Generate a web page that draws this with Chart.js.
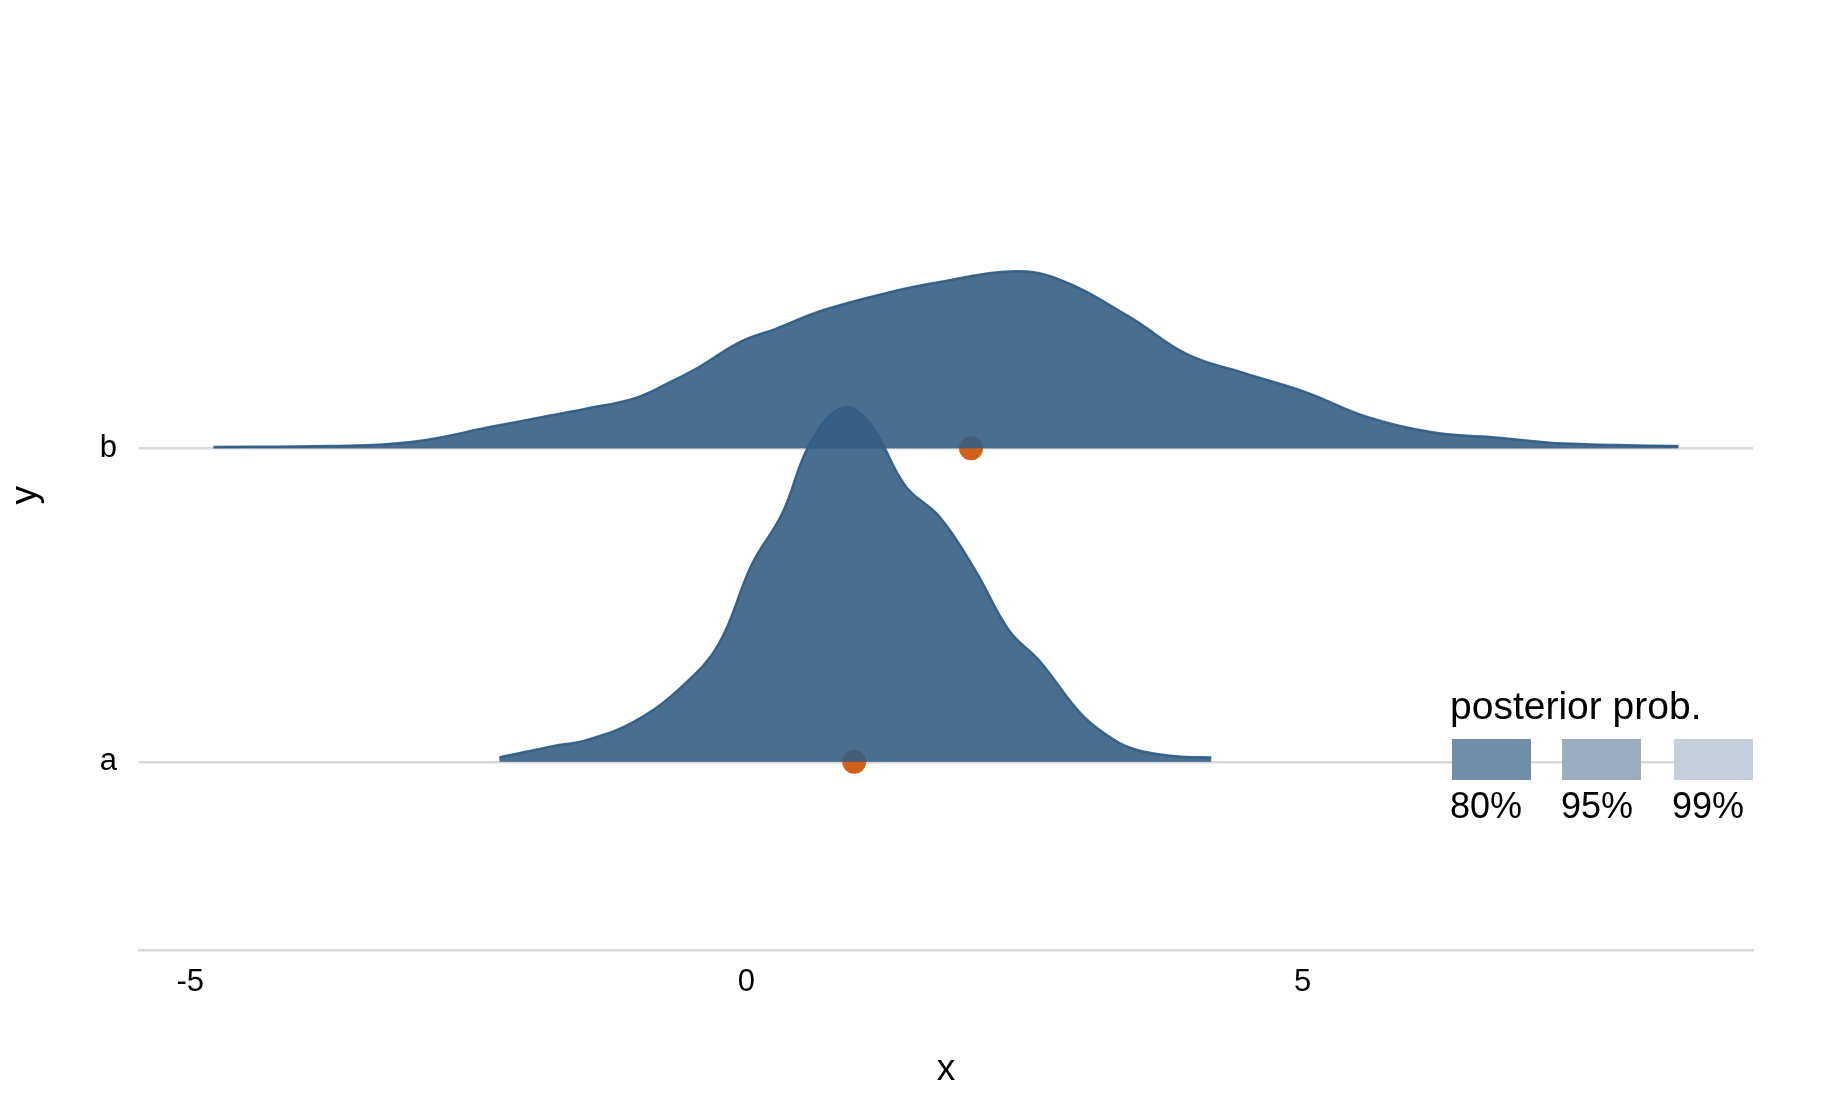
<!DOCTYPE html>
<html>
<head>
<meta charset="utf-8">
<script src="https://cdn.jsdelivr.net/npm/chart.js@4"></script>
<style>
  body { margin: 0; background: #fff; font-family: "Liberation Sans", Arial, sans-serif; }
  #wrap { position: relative; width: 1834px; height: 1096px; }
  .lg { position: absolute; color: #000; }
  .sw { position: absolute; width: 79px; height: 41px; top: 739px; }
</style>
</head>
<body>
<div id="wrap">
  <canvas id="c" width="1834" height="1096"></canvas>
  <div class="lg" style="left:1450px;top:684px;font-size:39px;">posterior prob.</div>
  <div class="sw" style="left:1452px;background:#708ea9"></div>
  <div class="sw" style="left:1562px;background:#9cadc2"></div>
  <div class="sw" style="left:1674px;background:#c5cfdb"></div>
  <div class="lg" style="left:1450px;top:785px;font-size:36px;">80%</div>
  <div class="lg" style="left:1561px;top:785px;font-size:36px;">95%</div>
  <div class="lg" style="left:1672px;top:785px;font-size:36px;">99%</div>
</div>
<script>
const groups = ['a', 'b'];
const groupPos = [1, 2];
const xTicks = [-5, 0, 5];

// density of b (x, height)
const bX = [-4.79, -3.75, -3.01, -2.27, -1.83, -1.43, -1.0, -0.69, -0.42, -0.05, 0.26, 0.69, 1.32, 1.74, 2.38, 2.8, 3.44, 3.96, 4.47, 5.02, 5.58, 6.18, 6.78, 7.35, 8.38];
const bH = [0.004, 0.007, 0.02, 0.07, 0.10, 0.127, 0.16, 0.21, 0.26, 0.34, 0.38, 0.44, 0.50, 0.53, 0.564, 0.54, 0.42, 0.30, 0.24, 0.18, 0.10, 0.05, 0.033, 0.015, 0.007];
// density of a
const aX = [-2.22, -1.74, -1.43, -1.0, -0.58, -0.25, 0.05, 0.32, 0.58, 0.87, 1.11, 1.43, 1.74, 2.06, 2.36, 2.64, 2.99, 3.22, 3.49, 3.86, 4.18];
const aH = [0.014, 0.05, 0.07, 0.13, 0.24, 0.375, 0.63, 0.79, 1.02, 1.13, 1.08, 0.88, 0.78, 0.61, 0.42, 0.32, 0.16, 0.09, 0.04, 0.018, 0.014];

// intervals [lo, hi] for 80, 95, 99 %
const aInt = [[-0.25, 2.36], [-1.0, 2.99], [-1.74, 3.49]];
const bInt = [[-0.42, 4.47], [-1.83, 5.58], [-3.05, 6.78]];
const medians = [0.97, 2.02];

const fills = ['rgba(51,94,132,0.7)', 'rgba(51,94,132,0.5)', 'rgba(51,94,132,0.29)'];
const lineCol = '#3d6a93';

const densities = [[aX, aH, aInt], [bX, bH, bInt]];
const datasets = [];
// b first so a draws on top
[1, 0].forEach(g => {
  const [xs, hs, ints] = densities[g];
  const base = groupPos[g];
  const pts = xs.map((x, i) => ({x: x, y: base + hs[i]}));
  [2, 1, 0].forEach(k => {
    datasets.push({
      data: pts, borderWidth: 0, pointRadius: 0, tension: 0.4,
      backgroundColor: fills[k], fill: {value: base},
      band: {inner: k > 0 ? ints[k - 1] : null, outer: ints[k]}
    });
  });
  datasets.push({data: pts, borderColor: lineCol, borderWidth: 2.5, pointRadius: 0, tension: 0.4, fill: false});
});
datasets.push({
  type: 'scatter',
  data: medians.map((m, i) => ({x: m, y: groupPos[i]})),
  pointRadius: 12, pointHoverRadius: 12, backgroundColor: '#d2601a', borderWidth: 0
});

const bandClip = {
  id: 'bandClip',
  beforeDatasetDraw(chart, args) {
    const band = args.meta._dataset.band;
    if (!band) return;
    const xs = chart.scales.x, a = chart.chartArea, ctx = chart.ctx;
    ctx.save();
    ctx.beginPath();
    const L = xs.getPixelForValue(band.outer[0]), R = xs.getPixelForValue(band.outer[1]);
    if (band.inner) {
      const il = xs.getPixelForValue(band.inner[0]), ir = xs.getPixelForValue(band.inner[1]);
      ctx.rect(L, a.top, il - L, a.bottom - a.top);
      ctx.rect(ir, a.top, R - ir, a.bottom - a.top);
    } else {
      ctx.rect(L, a.top, R - L, a.bottom - a.top);
    }
    ctx.clip();
  },
  afterDatasetDraw(chart, args) {
    if (args.meta._dataset.band) chart.ctx.restore();
  }
};

new Chart(document.getElementById('c'), {
  type: 'line',
  data: {datasets: datasets},
  plugins: [bandClip],
  options: {
    responsive: false, animation: false,
    layout: {padding: {top: 8, right: 81}},
    plugins: {legend: {display: false}, tooltip: {enabled: false}},
    scales: {
      x: {
        type: 'linear', min: -5.46, max: 9.05,
        afterBuildTicks: s => { s.ticks = xTicks.map(v => ({value: v})); },
        afterFit: s => { s.height = 146; },
        grid: {display: false, drawTicks: false},
        border: {color: '#d9d9d9', width: 2.5},
        ticks: {color: '#000', font: {size: 31, family: 'Liberation Sans'}, padding: 14},
        title: {display: true, text: 'x', color: '#000', font: {size: 37, family: 'Liberation Sans'}, padding: {top: 4}}
      },
      y: {
        type: 'linear', min: 0.4, max: 3.3,
        afterBuildTicks: s => { s.ticks = groupPos.map(v => ({value: v})); },
        afterFit: s => { s.width = 139; },
        grid: {color: '#d9d9d9', lineWidth: 2.5, drawTicks: false},
        border: {display: false},
        ticks: {color: '#000', font: {size: 31, family: 'Liberation Sans'}, padding: 22,
          callback: v => groups[groupPos.indexOf(v)]},
        title: {display: true, text: 'y', color: '#000', font: {size: 37, family: 'Liberation Sans'}, padding: {bottom: 4}}
      }
    }
  }
});
</script>
</body>
</html>
